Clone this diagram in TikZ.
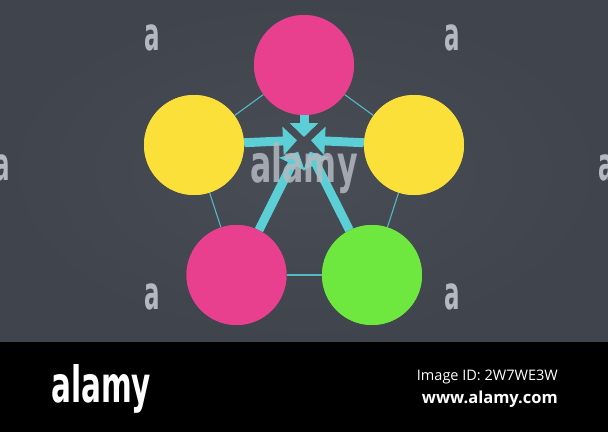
\documentclass[tikz,border=0pt]{standalone}
\usepackage{fontspec}
\setmainfont{DejaVu Sans}
\newfontfamily\idfont{Open Sans}
\usetikzlibrary{arrows.meta}
\definecolor{bg}{HTML}{484D56}
\definecolor{bgdark}{HTML}{40444C}
\definecolor{pinkc}{HTML}{E8408F}
\definecolor{yellowc}{HTML}{FBE03A}
\definecolor{greenc}{HTML}{6EE83E}
\definecolor{tealc}{HTML}{5CCFD6}
\definecolor{thinc}{HTML}{52B9C4}
\definecolor{wmc}{HTML}{B4B8BF}
\tikzset{
  ball/.style={circle,minimum size=100pt,inner sep=0pt,draw=none},
  thinline/.style={draw=thinc,line width=1.1pt},
  bigarrow/.style={draw=tealc,line width=9pt,-{Triangle[width=28pt,length=14pt]}},
  shadowarrow/.style={draw=black,opacity=0.25,line width=9pt,-{Triangle[width=28pt,length=14pt]}},
  wma/.style={text=wmc,font=\bfseries\fontsize{46}{46}\selectfont,inner sep=0pt},
}
\begin{document}
\begin{tikzpicture}[x=1pt,y=-1pt]
\useasboundingbox (0,0) rectangle (608,432);
% background
\shade[inner color=bg,outer color=bgdark] (0,0) rectangle (608,342);
\fill[black] (0,342) rectangle (608,432);
% nodes
\node[ball,fill=pinkc] (top) at (304,65) {};
\node[ball,fill=yellowc] (lft) at (194,145) {};
\node[ball,fill=yellowc] (rgt) at (414,145) {};
\node[ball,fill=pinkc] (bl) at (236.5,275) {};
\node[ball,fill=greenc] (br) at (372,275) {};
\coordinate (c) at (304,140);
% pentagon thin lines
\draw[thinline] (top) -- (lft);
\draw[thinline] (top) -- (rgt);
\draw[thinline] (lft) -- (bl);
\draw[thinline] (rgt) -- (br);
\draw[thinline] (bl) -- (br);
% arrow shadows
\begin{scope}[shift={(2.5,2.5)}]
\draw[shadowarrow,shorten >=3pt] (top) -- (c);
\draw[shadowarrow,shorten >=7pt] (lft) -- (c);
\draw[shadowarrow,shorten >=7pt] (rgt) -- (c);
\draw[shadowarrow,shorten >=13pt] (bl) -- (c);
\draw[shadowarrow,shorten >=13pt] (br) -- (c);
\end{scope}
% arrows
\draw[bigarrow,shorten >=3pt] (top) -- (c);
\draw[bigarrow,shorten >=7pt] (lft) -- (c);
\draw[bigarrow,shorten >=7pt] (rgt) -- (c);
\draw[bigarrow,shorten >=13pt] (bl) -- (c);
\draw[bigarrow,shorten >=13pt] (br) -- (c);
% redraw balls above lines and arrow tails
\node[ball,fill=pinkc] at (top) {};
\node[ball,fill=yellowc] at (lft) {};
\node[ball,fill=yellowc] at (rgt) {};
\node[ball,fill=pinkc] at (bl) {};
\node[ball,fill=greenc] at (br) {};
% watermarks
\node[wma] (w1) at (152,38) {\scalebox{0.5}[1]{a}};
\node[wma] (w2) at (452,38) {\scalebox{0.5}[1]{a}};
\node[wma] (w3) at (2,168) {\scalebox{0.5}[1]{a}};
\node[wma] (w4) at (606,168) {\scalebox{0.5}[1]{a}};
\node[wma] (w5) at (152,297) {\scalebox{0.5}[1]{a}};
\node[wma] (w6) at (452,297) {\scalebox{0.5}[1]{a}};
\node[text=wmc,opacity=0.85,inner sep=0pt,anchor=base,font=\bfseries\fontsize{52}{52}\selectfont] (wm) at (304,182) {\scalebox{0.61}[1]{alamy}};
% bottom bar
\node[text=white,inner sep=0pt,anchor=base west,font=\bfseries\fontsize{50}{50}\selectfont] (logo) at (51,402) {\scalebox{0.59}[1]{alamy}};
\node[text=white,inner sep=0pt,anchor=base east,font=\idfont\fontsize{14.5}{14.5}\selectfont] (imgid) at (558,380) {Image ID: 2W7WE3W};
\node[text=white,inner sep=0pt,anchor=base east,font=\idfont\bfseries\fontsize{16.5}{16.5}\selectfont] (url) at (558,403) {www.alamy.com};
\end{tikzpicture}
\end{document}
